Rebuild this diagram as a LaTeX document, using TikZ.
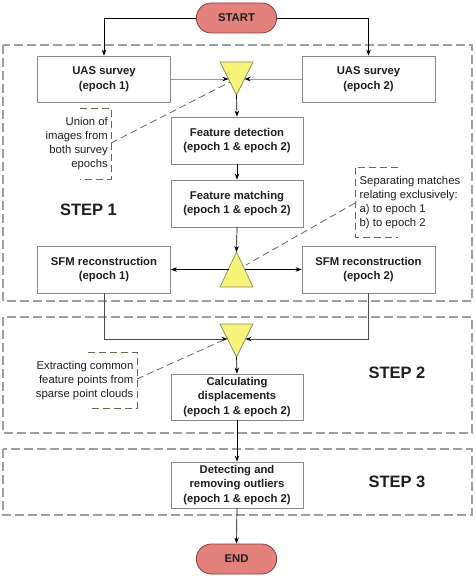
\documentclass[tikz,border=0pt]{standalone}
\usepackage{fontspec}
\setmainfont{Liberation Sans}
\usetikzlibrary{arrows.meta,shapes.misc}
\definecolor{pillc}{HTML}{E5817C}
\definecolor{pillb}{HTML}{8B3A3A}
\definecolor{tric}{HTML}{F7F47C}
\definecolor{trib}{HTML}{8C8C60}
\definecolor{boxb}{HTML}{8A8A8A}
\definecolor{notec}{HTML}{6E6550}
\definecolor{txt}{HTML}{1E1E1E}
\begin{document}
\begin{tikzpicture}[x=1pt,y=-1pt,
 box/.style={draw=boxb,fill=white,minimum width=133pt,minimum height=46pt,inner sep=2pt,align=center,
   font=\bfseries\fontsize{11.3}{14.6}\selectfont,text=txt,line width=0.8pt},
 pill/.style={rounded rectangle,draw=pillb,fill=pillc,minimum width=87pt,minimum height=30pt,
   font=\bfseries\fontsize{11.3}{13}\selectfont,text=txt,line width=0.8pt},
 stepframe/.style={draw=gray!75,dash pattern=on 9pt off 4pt,line width=1.1pt},
 arr/.style={-{Stealth[length=6pt,width=4.5pt]},line width=0.7pt,draw=black},
 garr/.style={-{Stealth[length=6pt,width=4.5pt,color=black]},line width=0.7pt,draw=gray!80},
 tri/.style={draw=trib,fill=tric,line width=0.7pt},
 note/.style={font=\fontsize{11.3}{14}\selectfont,text=txt,inner sep=0pt},
 notedash/.style={draw=notec,dash pattern=on 7pt off 4pt,line width=0.8pt},
 steplabel/.style={font=\bfseries\fontsize{16.5}{20}\selectfont,text=txt}
]
\useasboundingbox (0,0) rectangle (474,577);

% step frames
\draw[stepframe] (3,45) rectangle (472,301);
\draw[stepframe] (3,317) rectangle (472,433);
\draw[stepframe] (3,449) rectangle (472,515);

\node[steplabel] (s1) at (88.5,210) {STEP 1};
\node[steplabel] (s2) at (397,373) {STEP 2};
\node[steplabel] (s3) at (397,482) {STEP 3};

% terminals
\node[pill] (start) at (236.5,18) {START};
\node[pill] (end) at (236.5,559) {END};

% boxes
\node[box] (uas1) at (104,79) {UAS survey\\(epoch 1)};
\node[box] (uas2) at (368.5,79) {UAS survey\\(epoch 2)};
\node[box,minimum width=132pt,minimum height=47pt] (fd) at (237,140.5) {Feature detection\\(epoch 1 \& epoch 2)};
\node[box,minimum width=132pt,minimum height=47pt] (fm) at (237,203.5) {Feature matching\\(epoch 1 \& epoch 2)};
\node[box,minimum height=47pt] (sfm1) at (104,269.5) {SFM reconstruction\\(epoch 1)};
\node[box,minimum height=47pt] (sfm2) at (368.5,269.5) {SFM reconstruction\\(epoch 2)};
\node[box,minimum width=132pt] (calc) at (237,397) {Calculating\\displacements\\(epoch 1 \& epoch 2)};
\node[box,minimum width=132pt] (det) at (237,485) {Detecting and\\removing outliers\\(epoch 1 \& epoch 2)};

% triangles
\draw[tri] (220,62) -- (253,62) -- (236.5,95) -- cycle;
\draw[tri] (236.5,252) -- (253,287) -- (220,287) -- cycle;
\draw[tri] (220,324) -- (253,324) -- (236.5,357) -- cycle;
\coordinate (t1l) at (228.5,79);
\coordinate (t1r) at (244.5,79);
\coordinate (t1b) at (236.5,95);
\coordinate (t1n) at (230,82);
\coordinate (t2a) at (236.5,252);
\coordinate (t2l) at (228.5,269.5);
\coordinate (t2r) at (244.5,269.5);
\coordinate (t2n) at (246,265);
\coordinate (t3l) at (227.5,339);
\coordinate (t3r) at (245.5,339);
\coordinate (t3b) at (236.5,357);
\coordinate (t3n) at (228,338);

% connectors
\draw[arr] (start.west) -| (uas1.north);
\draw[arr] (start.east) -| (uas2.north);
\draw[garr] (uas1.east) -- (t1l);
\draw[garr] (uas2.west) -- (t1r);
\draw[arr] (t1b) -- (fd.north);
\draw[arr] (fd.south) -- (fm.north);
\draw[arr] (fm.south) -- (t2a);
\draw[arr] (t2l) -- (sfm1.east);
\draw[arr] (t2r) -- (sfm2.west);
\draw[garr,draw=black!70] (sfm1.south) |- (t3l);
\draw[garr,draw=black!70] (sfm2.south) |- (t3r);
\draw[arr] (t3b) -- (calc.north);
\draw[arr] (calc.south) -- (det.north);
\draw[arr] (det.south) -- (end.north);

% notes
\node[note,anchor=east,align=right] (n1) at (108,144) {Union of\\images from\\both survey\\epochs};
\draw[notedash] (80,108) -- (111,108) -- (111,179) -- (80,179);
\coordinate (n1c) at (111,143);
\draw[notedash] (n1c) -- (t1n);

\node[note,anchor=west,align=left] (n2) at (359.5,203) {Separating matches\\relating exclusively:\\a) to epoch 1\\b) to epoch 2};
\draw[notedash] (398,167) -- (355,167) -- (355,237) -- (398,237);
\coordinate (n2c) at (355,203);
\draw[notedash] (n2c) -- (t2n);

\node[note,anchor=east,align=right] (n3) at (133.5,381) {Extracting common\\feature points from\\sparse point clouds};
\draw[notedash] (88,352) -- (137,352) -- (137,408) -- (88,408);
\coordinate (n3c) at (137,379);
\draw[notedash] (n3c) -- (t3n);
\end{tikzpicture}
\end{document}
